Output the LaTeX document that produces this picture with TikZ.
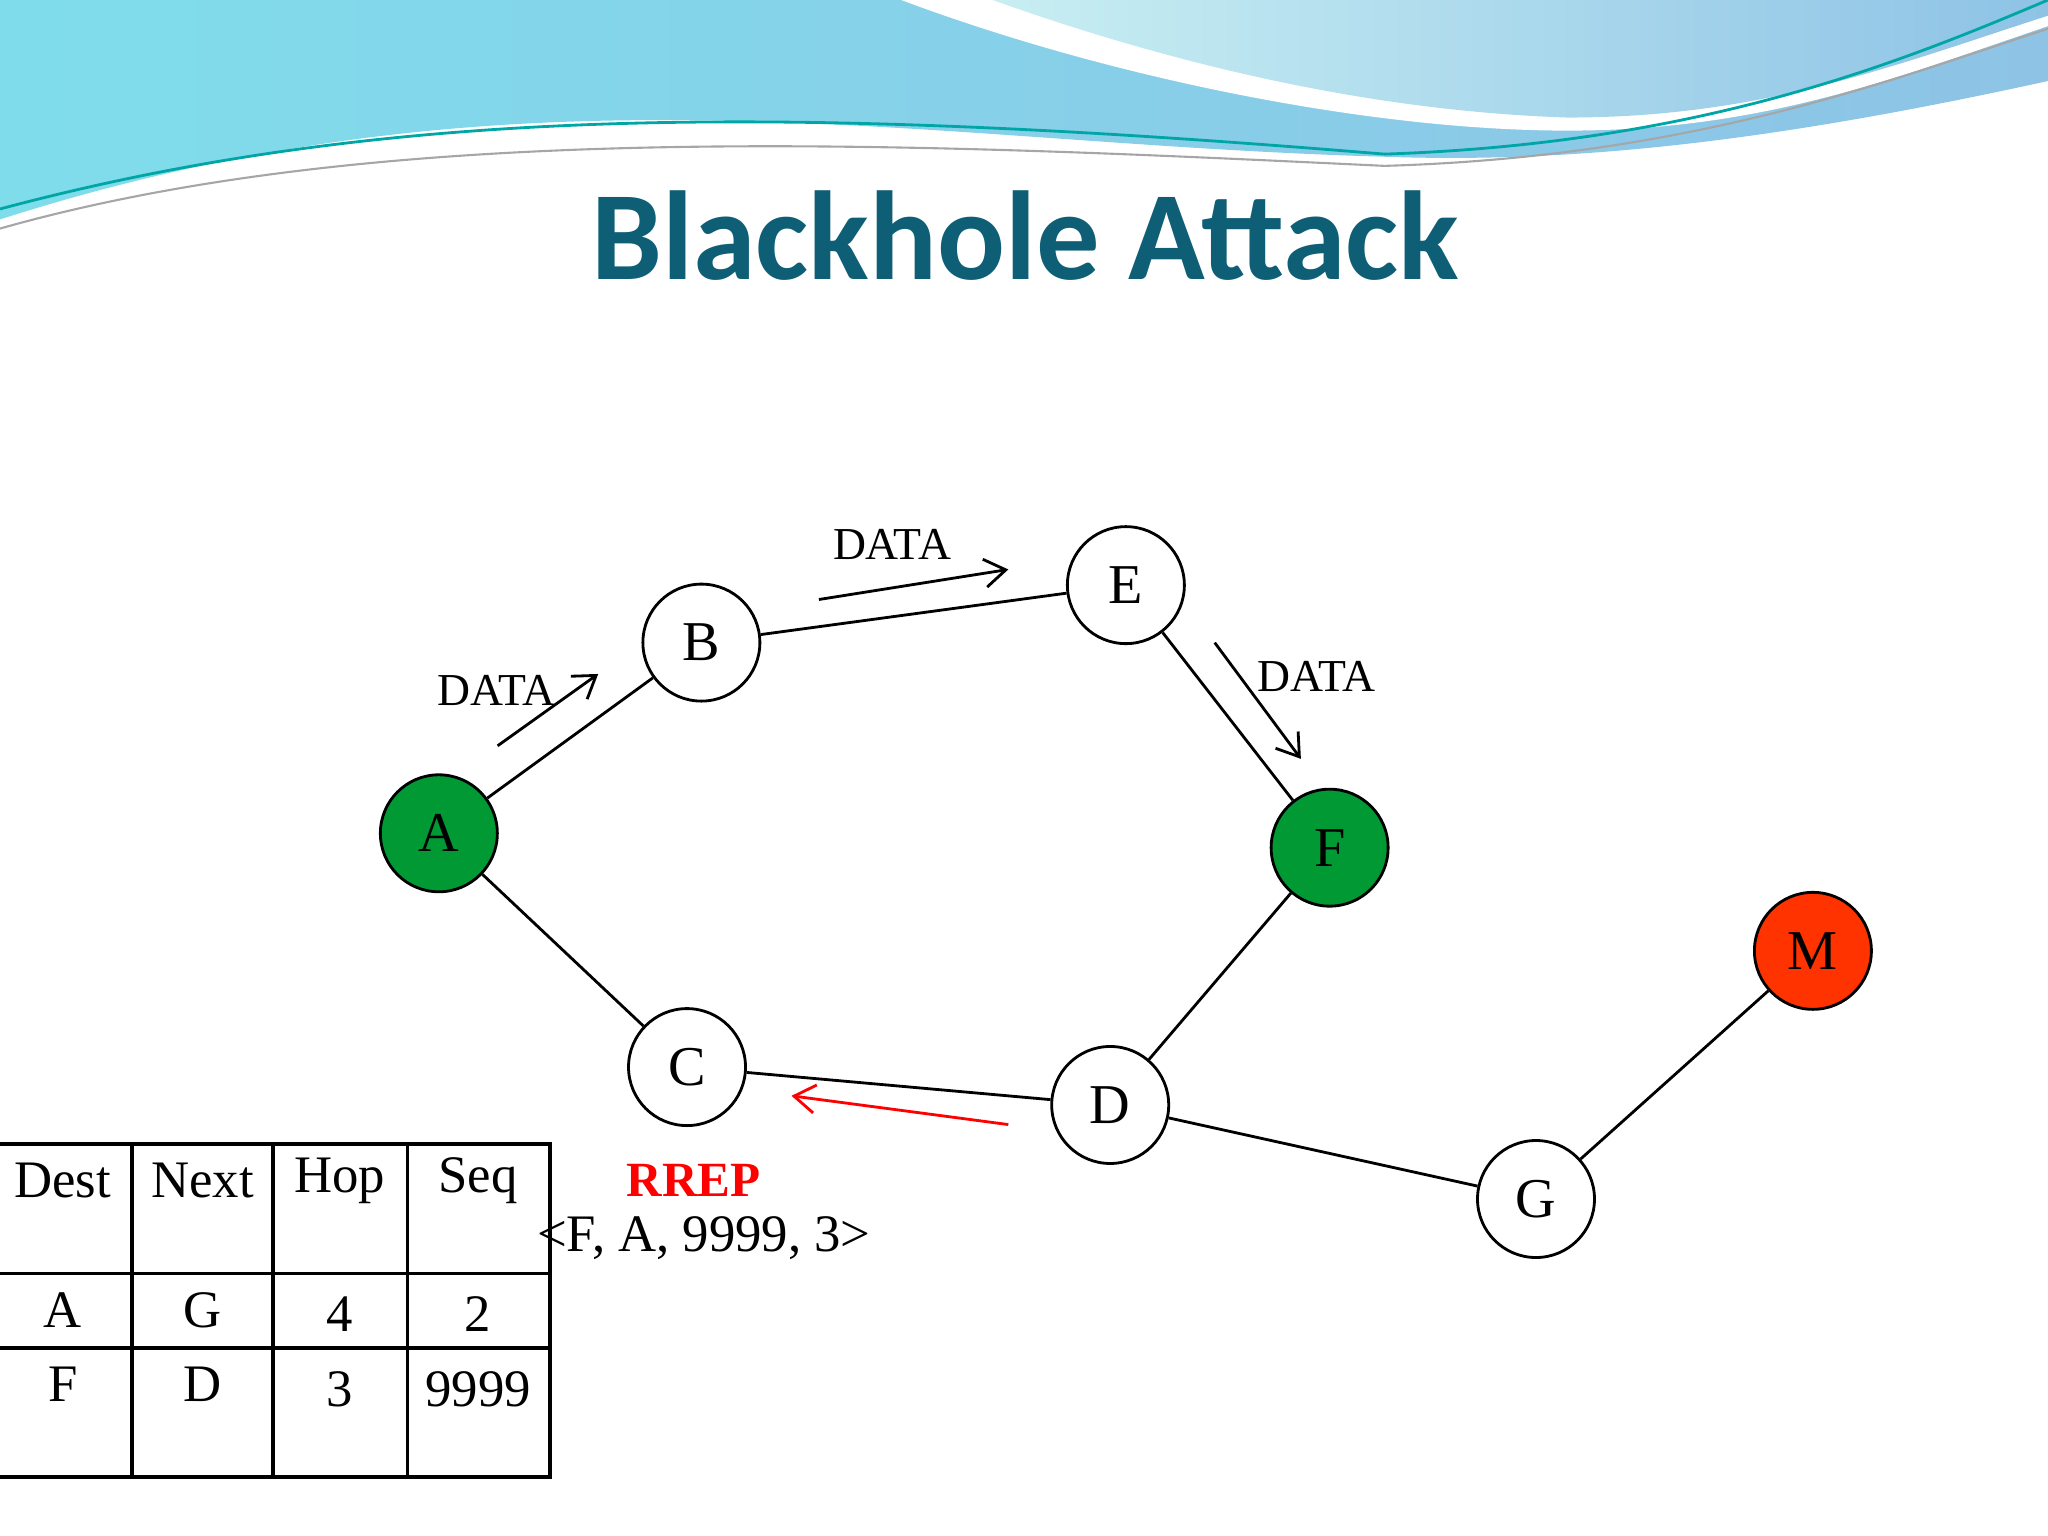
\documentclass[tikz,border=0pt]{standalone}
\usepackage{fontspec}
\setmainfont{Liberation Serif}
\newfontfamily\titlefont{Carlito}
\usetikzlibrary{arrows.meta}
\definecolor{nodegreen}{HTML}{009933}
\definecolor{nodered}{HTML}{FF3300}
\definecolor{titleblue}{HTML}{0E5F75}
\definecolor{hdrA}{HTML}{7FDDEB}
\definecolor{hdrB}{HTML}{8EC3E6}
\definecolor{hdrC}{HTML}{C8EEF2}
\begin{document}
\begin{tikzpicture}[x=0.01306cm,y=-0.01306cm,
  nd/.style={circle,draw,thick,inner sep=0pt,minimum size=1.17cm,font=\fontsize{16}{16}\selectfont},
  edge/.style={line width=0.8pt},
  dat/.style={-{Straight Barb[length=6pt,width=8pt]},line width=0.8pt},
  lab/.style={font=\fontsize{13}{13}\selectfont},
  tb/.style={font=\fontsize{15}{15}\selectfont}]
\useasboundingbox (0,0) rectangle (1568,1176);
% header
\shade[left color=hdrA,right color=hdrB]
  (0,0) -- (1568,0) -- (1568,62) .. controls (1350,110) and (1200,125) .. (1060,120)
  .. controls (700,110) and (400,40) .. (0,168) -- cycle;
\fill[white] (690,0) .. controls (850,60) and (1050,100) .. (1200,100)
  .. controls (1350,100) and (1450,60) .. (1568,20) -- (1568,0) -- cycle;
\shade[left color=hdrC,right color=hdrB] (760,0) .. controls (900,50) and (1050,85) .. (1200,90)
  .. controls (1350,90) and (1450,50) .. (1568,12) -- (1568,0) -- cycle;
\draw[teal!70!cyan,line width=0.8pt] (0,160) .. controls (300,80) and (600,80) .. (1060,118) .. controls (1300,110) and (1450,50) .. (1568,0);
\draw[gray!70,line width=0.6pt] (0,175) .. controls (300,90) and (700,110) .. (1060,127) .. controls (1300,120) and (1450,60) .. (1568,22);
\node[font=\titlefont\bfseries\fontsize{36}{36}\selectfont,text=titleblue] (title) at (785,180) {Blackhole Attack};
% nodes
\node[nd,fill=nodegreen] (A) at (336,638) {A};
\node[nd] (B) at (537,492) {B};
\node[nd] (E) at (862,448) {E};
\node[nd,fill=nodegreen] (F) at (1018,649) {F};
\node[nd] (C) at (526,817) {C};
\node[nd] (D) at (850,846) {D};
\node[nd] (G) at (1176,918) {G};
\node[nd,fill=nodered] (M) at (1388,728) {M};
\draw[edge] (A)--(B); \draw[edge] (B)--(E); \draw[edge] (E)--(F);
\draw[edge] (A)--(C); \draw[edge] (C)--(D); \draw[edge] (D)--(F);
\draw[edge] (D)--(G); \draw[edge] (G)--(M);
% arrows
\coordinate (a1) at (381,571); \coordinate (a2) at (458,516);
\coordinate (b1) at (627,459); \coordinate (b2) at (772,436);
\coordinate (c1) at (930,492); \coordinate (c2) at (996,581);
\coordinate (r1) at (772,861); \coordinate (r2) at (606,839);
\draw[dat] (a1)--(a2); \draw[dat] (b1)--(b2); \draw[dat] (c1)--(c2);
\draw[dat,red] (r1)--(r2);
\node[lab] (l1) at (380,529) {DATA};
\node[lab] (l2) at (683,417) {DATA};
\node[lab] (l3) at (1008,518) {DATA};
\node[font=\bfseries\fontsize{14}{14}\selectfont,text=red] (rrep) at (531,904) {RREP};
\node[tb] (msg) at (539,948) {<F, A, 9999, 3>};
% table
\draw[line width=1pt] (-5,876) rectangle (421,1131);
\foreach \x in {101,209,312} \draw[line width=1pt] (\x,876)--(\x,1131);
\foreach \y in {975,1032} \draw[line width=1pt] (-5,\y)--(421,\y);
\node[tb] (h1) at (48,904) {Dest}; \node[tb] (h2) at (155,904) {Next};
\node[tb] (h3) at (260,904) {Hop}; \node[tb] (h4) at (366,904) {Seq};
\node[tb] (r11) at (48,1003) {A}; \node[tb] (r12) at (155,1003) {G};
\node[tb] (r13) at (260,1006) {4}; \node[tb] (r14) at (366,1006) {2};
\node[tb] (r21) at (48,1060) {F}; \node[tb] (r22) at (155,1060) {D};
\node[tb] (r23) at (260,1064) {3}; \node[tb] (r24) at (366,1064) {9999};
\end{tikzpicture}
\end{document}
